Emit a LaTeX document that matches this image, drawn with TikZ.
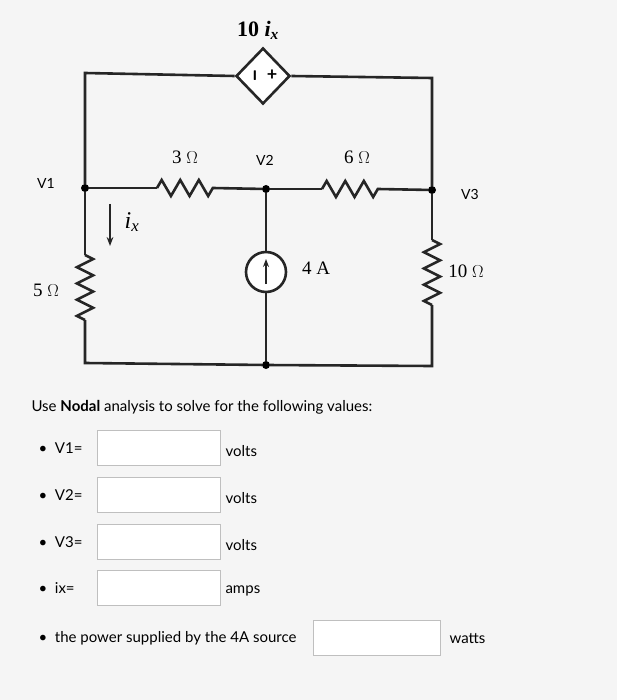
\documentclass[tikz,border=0pt]{standalone}
\usepackage{fontspec}
\setmainfont{Lato}
\newfontfamily\ser{Liberation Serif}
\usetikzlibrary{decorations.pathmorphing,shapes.geometric,arrows.meta}
\begin{document}
\begin{tikzpicture}[x=1pt,y=-1pt,
  w/.style={line width=2.6pt,black!85},
  res/.style={w,line join=miter,decoration={zigzag,segment length=18.6pt,amplitude=8pt},decorate},
  vres/.style={w,line join=miter,decoration={zigzag,segment length=16.25pt,amplitude=8pt},decorate},
  dot/.style={circle,fill=black,inner sep=0pt,minimum size=8pt},
  box/.style={draw=black!25,line width=0.8pt,fill=white,minimum width=123pt,minimum height=35pt,anchor=north west},
  lab/.style={font=\fontsize{15}{17}\selectfont,anchor=west},
  slab/.style={font=\fontsize{14}{16}\selectfont},
  olab/.style={font=\ser\fontsize{19}{21}\selectfont}]
\fill[black!4] (0,0) rectangle (617,700);
\useasboundingbox (0,0) rectangle (617,700);
% nodes
\node[dot] (n1) at (85,188) {};
\node[dot] (n2) at (266,189) {};
\node[dot] (n3) at (432,190) {};
\node[dot] (g) at (266,365) {};
\coordinate (tl) at (85,73);
\coordinate (tr) at (432,78);
\coordinate (bl) at (85,363);
\coordinate (br) at (432,366);
\node[diamond,draw,w,fill=white,minimum width=54pt,minimum height=56pt,inner sep=0pt] (ds) at (263,76) {};
\node[font=\bfseries\fontsize{14}{14}\selectfont] at (255,76) {\textsf{I}};
\node[font=\bfseries\fontsize{18}{18}\selectfont] at (272,75) {+};
\node[circle,draw,w,fill=white,minimum size=40pt,inner sep=0pt] (cs) at (266,272) {};
\draw[w,-{Stealth[length=8pt]}] (266,284) -- (266,259);
\coordinate (r3a) at (157,188); \coordinate (r3b) at (213,188);
\coordinate (r6a) at (322,189); \coordinate (r6b) at (378,189);
\coordinate (r5a) at (85,255); \coordinate (r5b) at (85,320);
\coordinate (r10a) at (432,240); \coordinate (r10b) at (432,305);
% wires
\draw[w] (n1) -- (tl) -- (ds.west);
\draw[w] (ds.east) -- (tr) -- (n3);
\draw[w] (n1) -- (r3a); \draw[res] (r3a) -- (r3b); \draw[w] (r3b) -- (n2);
\draw[w] (n2) -- (r6a); \draw[res] (r6a) -- (r6b); \draw[w] (r6b) -- (n3);
\draw[w] (n2) -- (cs.north); \draw[w] (cs.south) -- (g);
\draw[w] (n1) -- (r5a); \draw[vres] (r5a) -- (r5b); \draw[w] (r5b) -- (bl) -- (g);
\draw[w] (n3) -- (r10a); \draw[vres] (r10a) -- (r10b); \draw[w] (r10b) -- (br) -- (g);
\draw[w,-{Stealth[length=9pt]}] (110,204) -- (110,246);
% labels
\node[font=\ser\bfseries\fontsize{22}{24}\selectfont] at (258,30) {10 \textit{i\textsubscript{x}}};
\node[olab] at (185,157) {3 $\Omega$};
\node[slab] at (265,160) {V2};
\node[olab] at (357,157) {6 $\Omega$};
\node[slab] at (46,183) {V1};
\node[slab] at (470,194) {V3};
\node[font=\ser\fontsize{24}{26}\selectfont] at (132,222) {\textit{i\textsubscript{x}}};
\node[olab] at (316,268) {4 A};
\node[olab] at (46,290) {5 $\Omega$};
\node[olab] at (466,271) {10 $\Omega$};
% form
\node[lab] at (28,407) {Use \textbf{Nodal} analysis to solve for the following values:};
\foreach \t/\y/\u in {V1=/430/volts,V2=/477/volts,V3=/524/volts,ix=/570/amps}{
  \node[box] (b\t) at (97,\y) {};
  \node[lab] at (35,\y+18) {\textbullet\ \ \t};
  \node[lab] at (222,\y+21) {\u};
}
\node[box,minimum width=127pt] (bp) at (313,620) {};
\node[lab] at (35,638) {\textbullet\ \ the power supplied by the 4A source};
\node[lab] at (446,639) {watts};
\end{tikzpicture}
\end{document}
